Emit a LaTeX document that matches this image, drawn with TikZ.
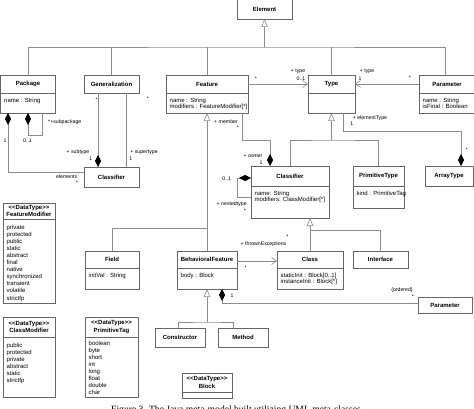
\documentclass[tikz,border=0pt]{standalone}
\usepackage{fontspec}
\setmainfont{Liberation Sans}
\newfontfamily\captionserif{Liberation Serif}
\usetikzlibrary{arrows.meta}

\tikzset{
  classbox/.style = {draw = black!60, line width = 0.6pt, inner sep = 0pt, outer sep = 0pt},
  classname/.style = {inner sep = 0pt, outer sep = 0pt, align = center, font = \fontsize{6}{7.5}\selectfont\bfseries},
  attrs/.style = {inner sep = 0pt, anchor = north west, align = left, font = \fontsize{6}{6.8}\selectfont},
  items/.style = {font = \fontsize{6}{7.1}\selectfont, yshift = -1pt},
  lbl/.style = {inner sep = 0.5pt, font = \fontsize{5.2}{6}\selectfont},
  assoc/.style = {draw = black!45, line width = 0.6pt},
  genarrow/.style = {assoc, -{Triangle[open, length = 8pt, width = 6.5pt]}},
  comparrow/.style = {assoc, {Diamond[length = 12pt, width = 6pt, color = black, fill = black]}-},
  navarrow/.style = {assoc, -{Straight Barb[length = 5pt, width = 7pt]}}
}

% box with a name compartment: name, top left corner, width, height, name height, title
\newcommand{\umlbox}[6]{%
  \node[classbox, minimum width = #3pt, minimum height = #4pt, anchor = north west] (#1) at (#2) {};
  \node[classname, minimum width = #3pt, minimum height = #5pt, anchor = north] (#1-name) at (#1.north) {#6};
  \ifdim #5pt < #4pt \draw[classbox] (#1-name.south west) -- (#1-name.south east); \fi
}
\newcommand{\umlattr}[3][]{%
  \node[attrs, #1] (#2-attr) at ([xshift = 3.5pt, yshift = -4.5pt]#2-name.south west) {#3};
}
\newcommand{\datatype}{<\kern0pt<DataType>\kern0pt>}

\begin{document}
\begin{tikzpicture}[x = 1pt, y = -1pt]
  \useasboundingbox (0,0) rectangle (474,409);

  % classes
  \umlbox{element}{237,-1}{55}{20}{20}{Element}
  \umlbox{package}{0.5,75}{55}{38}{18}{Package}
  \umlattr{package}{name : String}
  \umlbox{gen}{84,75}{55}{18}{18}{Generalization}
  \umlbox{feature}{166,75}{82}{38}{18}{Feature}
  \umlattr{feature}{name : String\\modifiers : FeatureModifier[*]}
  \umlbox{type}{308,75}{47}{38}{18}{Type}
  \umlbox{paramtop}{419,75}{56}{38}{18}{Parameter}
  \umlattr{paramtop}{name : String\\isFinal : Boolean}
  \umlbox{clsleft}{84,167}{55}{20}{20}{Classifier}
  \umlbox{classifier}{251,166}{78}{52}{20}{Classifier}
  \umlattr{classifier}{name: String\\modifiers: ClassModifier[*]}
  \umlbox{primtype}{353,166}{51}{42}{20}{PrimitiveType}
  \umlattr{primtype}{kind : PrimitiveTag}
  \umlbox{arraytype}{425,166}{48}{20}{20}{ArrayType}
  \umlbox{field}{85,251}{54}{38}{17}{Field}
  \umlattr{field}{initVal : String}
  \umlbox{behav}{177,251}{60}{38}{17}{BehavioralFeature}
  \umlattr{behav}{body : Block}
  \umlbox{class}{277,251}{66}{38}{17}{Class}
  \umlattr{class}{staticInit : Block[0..1]\\instanceInit : Block[*]}
  \umlbox{interface}{353,251}{55}{17}{17}{Interface}
  \umlbox{parambot}{418,297}{54}{16}{16}{Parameter}
  \umlbox{constructor}{155,328}{50}{19}{19}{Constructor}
  \umlbox{method}{218,328}{50}{19}{19}{Method}

  % data types
  \umlbox{featmod}{3,203}{52}{100}{16}{\datatype\\FeatureModifier}
  \umlattr[items]{featmod}{private\\protected\\public\\static\\abstract\\final\\native\\synchronized\\transient\\volatile\\strictfp}
  \umlbox{classmod}{3,317}{52}{80}{20}{\datatype\\ClassModifier}
  \umlattr[items]{classmod}{public\\protected\\private\\abstract\\static\\strictfp}
  \umlbox{primtag}{85,317}{53}{80}{20}{\datatype\\PrimitiveTag}
  \umlattr[items, yshift = 2pt]{primtag}{boolean\\byte\\short\\int\\long\\float\\double\\char}
  \umlbox{block}{182,373}{50}{25}{19}{\datatype\\Block}

  % generalizations
  \coordinate (elembus) at ([yshift = -28pt]element.south);
  \draw[genarrow] (elembus) -- (element.south);
  \draw[assoc] (package.north) |- (elembus) -| ([xshift = -2pt]paramtop.north);
  \foreach \n in {gen, feature, type}
    \draw[assoc] (\n.north) -- (\n.north |- elembus);

  \draw[genarrow] (behav.north) -- (feature.south);
  \draw[assoc] (field.north) |- ([yshift = 23pt]behav.north);

  \coordinate (typebus) at ([yshift = -27pt]type.south);
  \draw[genarrow] (typebus) -- (type.south);
  \draw[assoc] (classifier.north) |- (typebus) -| (primtype.north);

  \draw[genarrow] (class.north) -- ([xshift = 20pt]classifier.south);
  \draw[assoc] (interface.north) |- ([yshift = 21pt]class.north);

  \coordinate (bfbus) at ([yshift = -33pt]behav.south);
  \draw[genarrow] (bfbus) -- (behav.south);
  \draw[assoc] ([xshift = -2pt]constructor.north) |- (bfbus) -| ([xshift = 15pt]method.north west);

  % compositions
  \draw[comparrow] (package.south) -- ++(0,22) -| ([xshift = 14pt]package.south);
  \draw[comparrow] ([xshift = -20pt]package.south) |- ([yshift = 5pt]clsleft.west);
  \draw[comparrow] ([xshift = -13.5pt]clsleft.north) -- ([xshift = -13.5pt]gen.south);
  \draw[assoc] ([xshift = 14.5pt]gen.south) -- ([xshift = 14.5pt]clsleft.north);
  \draw[comparrow] ([xshift = -20pt]classifier.north) -- ++(0,-26) -| ([xshift = -6pt]feature.south east);
  \draw[comparrow] ([xshift = 12pt]arraytype.north) -- ++(0,-35) -| ([xshift = 11.5pt]type.south);
  \draw[comparrow] ([yshift = -12pt]classifier.north west) -- ++(-14,0) |- ([yshift = -31pt]classifier.north west);
  \draw[comparrow] ([xshift = 15pt]behav.south) |- ([yshift = 2pt]parambot.west);

  % navigable associations
  \draw[navarrow] ([yshift = 10pt]feature.east) -- ([yshift = 10pt]type.west);
  \draw[navarrow] ([yshift = 10pt]paramtop.west) -- ([yshift = 10pt]type.east);
  \draw[navarrow] ([yshift = 9pt]behav.east) -- ([yshift = 9pt]class.west);

  % roles and multiplicities
  \foreach \x/\y/\t [count = \i] in {
      64.8/122/{*+subpackage}, 27.5/141/0..1, 5/141/1, 66.7/177/elements, 77/183/*,
      96.7/99.3/*, 78/151.7/+ subtype, 90.7/159/1, 144/152/+ supertype, 130.7/159/1, 148/99/*,
      256/78.3/*, 298/71.7/+ type, 301/78.3/0..1, 367/71.7/+ type, 360/78.3/1, 410/78/*,
      226/121.7/+ member, 238/127.7/*, 253/156/+ owner, 261/162.7/1,
      370/117.7/+ elementType, 351.7/124/1, 466.7/150/*,
      226.7/178.3/0..1, 231.7/204.3/+ nestedtype, 245/211/*,
      263.5/244/+ thrownExceptions, 287.3/236.7/*, 245.7/267.7/*,
      232/296/1, 402/290/{\{ordered\}}, 413/296.7/*}
    \node[lbl] (lbl-\i) at (\x,\y) {\t};

  \node[font = \captionserif\fontsize{9.6}{11}\selectfont, anchor = base] (caption) at (236,412.5)
    {Figure 3. The Java meta-model built utilizing UML meta-classes};
\end{tikzpicture}
\end{document}
